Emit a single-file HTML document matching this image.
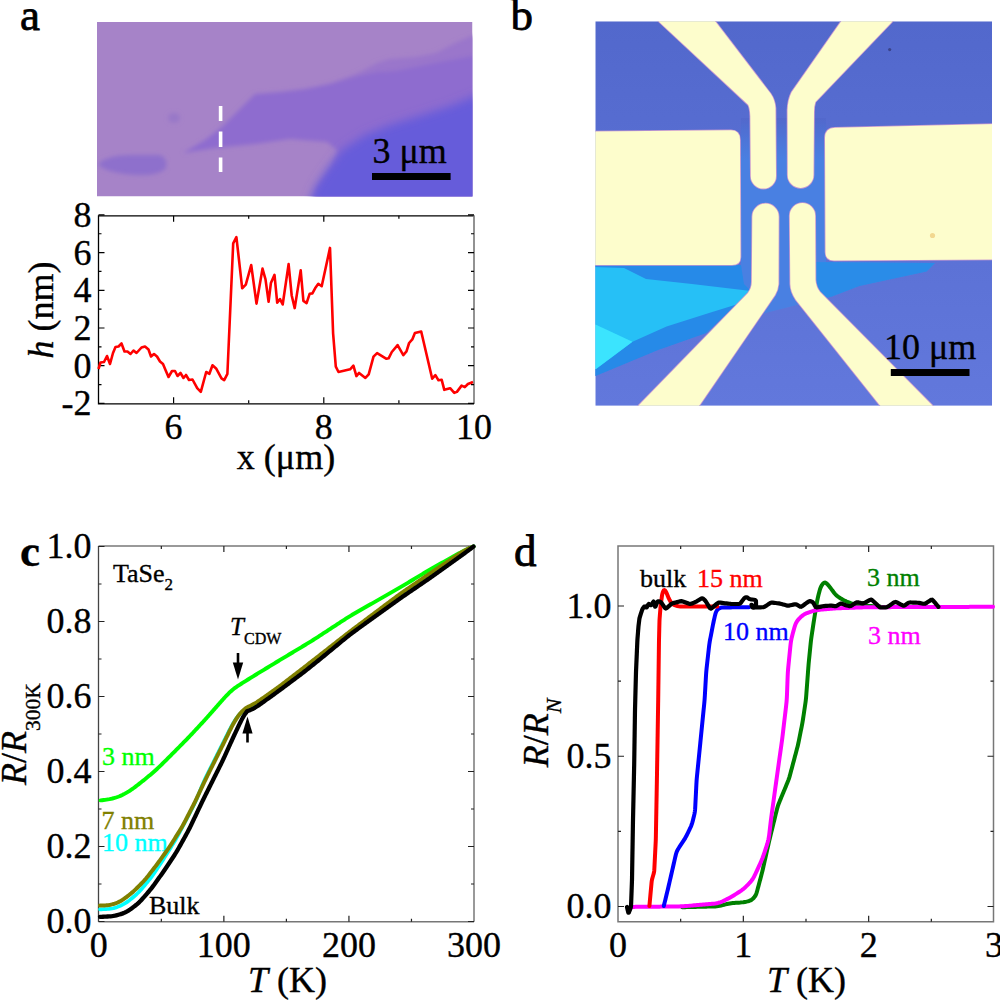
<!DOCTYPE html>
<html><head><meta charset="utf-8"><style>
html,body{margin:0;padding:0;background:#fff;width:1000px;height:1000px;overflow:hidden}
svg{display:block}
text{stroke:currentColor;stroke-width:0.35px}
.pl{stroke-width:0.8px}
</style></head><body>
<svg width="1000" height="1000" viewBox="0 0 1000 1000">
<rect width="1000" height="1000" fill="#fff"/>
<text color="#000" x="20" y="30" font-family="Liberation Serif" font-size="45" class="pl">a</text>
<text color="#000" x="510.5" y="30" font-family="Liberation Serif" font-size="45" class="pl">b</text>
<text color="#000" x="20" y="565.5" font-family="Liberation Serif" font-size="45" font-weight="bold">c</text>
<text color="#000" x="514" y="565.5" font-family="Liberation Serif" font-size="45" class="pl">d</text>
<defs>
<filter id="blurA" x="-5%" y="-5%" width="110%" height="110%"><feGaussianBlur stdDeviation="2.2"/></filter>
<filter id="blurA2" x="-10%" y="-10%" width="120%" height="120%"><feGaussianBlur stdDeviation="5"/></filter>
<filter id="blurB" x="-5%" y="-5%" width="110%" height="110%"><feGaussianBlur stdDeviation="0.7"/></filter>
<clipPath id="clipA"><rect x="97" y="22" width="375.5" height="174.5"/></clipPath>
<clipPath id="clipB"><rect x="595.3" y="21.3" width="396.7" height="384.5"/></clipPath>
</defs>
<g clip-path="url(#clipA)">
<rect x="97" y="22" width="375.5" height="174.5" fill="#a683c8"/>
<g filter="url(#blurA)">
<path d="M329,84 L358,73 L377,63 L389,59 L416,57 L436,53 L455,43 L471,36 L480,33 L480,55 L472,56 L445,61 L420,66 L395,71 L377,72 L358,76 Z" fill="#9a76cb"/>
<path d="M183,153 L205,140 L223,126 L239,110 L255,94 L280,92 L305,89 L329,84 L358,76 L377,72 L395,71 L420,66 L445,61 L472,56 L480,55 L480,200 L312,200 L318,186 L331,168 L338,151 L327,142 L290,139 L255,144 L215,148 Z" fill="#8e6ccf"/>
<path d="M99,163 Q110,154 135,155 L160,155 Q168,158 166,168 Q160,176 135,175 Q112,174 99,166 Z" fill="#8e70cc"/>
<ellipse cx="174" cy="118" rx="6" ry="5" fill="#9878c8"/>
</g>
<g filter="url(#blurA2)">
<path d="M308,205 L316,186 L328,168 L342,150 L365,135 L390,125 L419,116 L450,106 L485,92 L485,205 Z" fill="#665cda"/>
</g>
</g>
<rect x="218.8" y="106" width="3.6" height="15" fill="#ffffff"/>
<rect x="218.8" y="131.5" width="3.6" height="15.5" fill="#ffffff"/>
<rect x="218.8" y="157.5" width="3.6" height="14.5" fill="#ffffff"/>
<text color="#000" x="372.5" y="163" font-family="Liberation Serif" font-size="36">3 μm</text>
<rect x="372" y="173" width="78.6" height="7" fill="#000"/>
<path d="M98.5,215.8 H474" stroke="#000" stroke-width="1.3"/>
<path d="M98.5,215.20000000000002 V403.90000000000003 H474" stroke="#000" stroke-width="1.3" fill="none"/>
<path d="M474,215.20000000000002 V403.90000000000003" stroke="#777" stroke-width="1.6"/>
<path d="M98.5,403.4 h6 M474,403.4 h-6 M98.5,384.55 h3 M474,384.55 h-3 M98.5,365.7 h6 M474,365.7 h-6 M98.5,346.85 h3 M474,346.85 h-3 M98.5,328 h6 M474,328 h-6 M98.5,309.15 h3 M474,309.15 h-3 M98.5,290.3 h6 M474,290.3 h-6 M98.5,271.45 h3 M474,271.45 h-3 M98.5,252.6 h6 M474,252.6 h-6 M98.5,233.75 h3 M474,233.75 h-3 M98.5,214.9 h6 M474,214.9 h-6 M173.6,403.3 v-6 M173.6,215.8 v6 M248.7,403.3 v-3 M248.7,215.8 v3 M323.8,403.3 v-6 M323.8,215.8 v6 M398.9,403.3 v-3 M398.9,215.8 v3" stroke="#000" stroke-width="1.2"/>
<text color="#000" x="91.5" y="226.9" font-family="Liberation Serif" font-size="36" text-anchor="end">8</text>
<text color="#000" x="91.5" y="264.6" font-family="Liberation Serif" font-size="36" text-anchor="end">6</text>
<text color="#000" x="91.5" y="302.3" font-family="Liberation Serif" font-size="36" text-anchor="end">4</text>
<text color="#000" x="91.5" y="340" font-family="Liberation Serif" font-size="36" text-anchor="end">2</text>
<text color="#000" x="91.5" y="377.7" font-family="Liberation Serif" font-size="36" text-anchor="end">0</text>
<text color="#000" x="91.5" y="415.4" font-family="Liberation Serif" font-size="36" text-anchor="end">-2</text>
<text color="#000" x="173.6" y="439" font-family="Liberation Serif" font-size="36" text-anchor="middle">6</text>
<text color="#000" x="323.8" y="439" font-family="Liberation Serif" font-size="36" text-anchor="middle">8</text>
<text color="#000" x="474" y="439" font-family="Liberation Serif" font-size="36" text-anchor="middle">10</text>
<text color="#000" x="286" y="469" font-family="Liberation Serif" font-size="36" text-anchor="middle">x (μm)</text>
<text color="#000" transform="translate(53.3,310) rotate(-90)" font-family="Liberation Serif" font-size="36" text-anchor="middle"><tspan font-style="italic">h</tspan> (nm)</text>
<path d="M98.5,369 L100.5,362.5 L104,362 L107,356 L110,364 L113,353 L115.5,347 L118.5,346.5 L121.5,343.5 L124.5,351.5 L127.5,351.5 L130.5,354 L133.5,350.5 L136.5,353 L141.5,347.5 L145,346.5 L148.5,349.5 L151,356.5 L154,354 L157,356.5 L160,361.5 L163,364 L165.5,370 L168.5,377 L172,371 L175,371 L177.5,376 L180.5,373 L183.5,378 L186,375 L189,380 L192.5,379.5 L197.2,388.2 L200.8,391.8 L206.2,372 L209.4,373.8 L212.5,365.3 L216.1,368.4 L221.5,378.3 L224.2,380.1 L227.4,373.8 L233.2,243.4 L236.4,237.1 L242.2,288.3 L245.8,284.7 L251.2,265 L256.5,303.6 L262.5,268.6 L265.5,279.4 L268.6,301.8 L270.9,283 L274.5,274.9 L277.2,302.7 L280,299.1 L282.7,304.5 L288.6,264.1 L291.7,295.5 L294.7,308.1 L300.7,270.4 L303.4,300.9 L306.6,303.1 L309.7,293.7 L312.4,293.4 L315.1,288.3 L318.3,283.8 L321.7,286.2 L330,247.9 L333.1,333.3 L335.8,366.6 L338.5,372 L350.1,369.3 L353.4,365.7 L356.4,376.1 L359.1,372.9 L365.4,377.9 L368.7,374.3 L373.5,356.7 L377.1,353.1 L386.5,358.8 L388.6,358.3 L391.8,352 L397.6,345.1 L403.3,355.1 L406.5,351.4 L409.1,343 L412.3,339.4 L414.9,333.1 L421.2,331.5 L432.2,378.7 L435.4,375.1 L438.5,380.3 L441.7,379.8 L444.3,389.8 L450.1,388.2 L454.3,392.9 L456.9,391.9 L461.6,385.6 L464.8,387.1 L467.9,384 L470.5,383 L473,382" stroke="#ff0000" stroke-width="2.6" fill="none" stroke-linejoin="round"/>
<g clip-path="url(#clipB)">
<defs><linearGradient id="subg" gradientUnits="userSpaceOnUse" x1="0" y1="21" x2="0" y2="406"><stop offset="0" stop-color="#5268cc"/><stop offset="1" stop-color="#6278dc"/></linearGradient></defs>
<rect x="595.3" y="21.3" width="396.7" height="384.5" fill="url(#subg)"/>
<g filter="url(#blurB)">
<defs><linearGradient id="flg" gradientUnits="userSpaceOnUse" x1="0" y1="118" x2="0" y2="160"><stop offset="0" stop-color="#5268cc"/><stop offset="1" stop-color="#4a80e2"/></linearGradient></defs>
<path d="M595,265 L741,265 L741,118 L826,118 L826,262 L935,263 L926.5,271.4 L859.3,286.1 L832,296.6 L817,300 L799,304.6 L765.6,313 L740,322 L705.6,333.3 L658,350 L596,375.8 L590,376 Z" fill="url(#flg)"/>
<path d="M590,265 L741,265 L744,284 L751,291 L705.6,333.3 L658,350 L596,375.8 L590,376 Z" fill="#268ae8"/>
<path d="M815,262 L935,263 L926.5,271.4 L859.3,286.1 L832,296.6 L817,300 Z" fill="#2c8ce8"/>
<path d="M590,267 L624,268 L646,279 L692,284 L751,291 L738,304 L709,313 L666.5,326.5 L632.5,341.8 L596,369 L590,369 Z" fill="#26c0f6"/>
<path d="M590,324 L596,324.8 L632.5,341.8 L596,369 L590,369 Z" fill="#3ae4fe"/>
<path d="M590,131.5 L731,130.3 Q740,130.3 740,140 L740.5,257 Q740.5,265 732,265 L590,265 Z" fill="#fdfdcc" stroke="#c898d0" stroke-width="1.6" paint-order="stroke"/>
<path d="M1000,124 L835,127.8 Q825,128.2 825,138 L825.5,252 Q825.5,260.5 834,260.5 L1000,259.5 Z" fill="#fdfdcc" stroke="#c898d0" stroke-width="1.6" paint-order="stroke"/>
<path d="M658.2,15 L715,15 L715,21 L770.6,93.6 Q775,100 775.5,108 L776,176 A12.6,12.6 0 0 1 750.8,176 L750.3,116 Q750,108 748.2,104.8 L658.2,21 Z" fill="#fdfdcc" stroke="#c898d0" stroke-width="1.6" paint-order="stroke"/>
<path d="M841.4,15 L892.9,15 L892.9,21 L815.4,102 Q814,106 814,112 L813.5,175 A12.9,12.9 0 0 1 787.7,175 L787.5,110 Q787.8,100 791.6,92.2 L841.4,21 Z" fill="#fdfdcc" stroke="#c898d0" stroke-width="1.6" paint-order="stroke"/>
<path d="M752.3,216.8 A13.2,13.2 0 0 1 778.7,216.8 L778.5,284 Q778,290 775,295 L696.3,410 L634.2,410 L748,293 Q751.7,288 751.8,282 Z" fill="#fdfdcc" stroke="#c898d0" stroke-width="1.6" paint-order="stroke"/>
<path d="M789.7,215.8 A12.75,12.75 0 0 1 815.2,215.8 L815.5,280 Q816,287 820,292 L936.9,410 L883.6,410 L796,300 Q790.5,292 790.3,284 Z" fill="#fdfdcc" stroke="#c898d0" stroke-width="1.6" paint-order="stroke"/>
</g>
<circle cx="889.7" cy="49.6" r="1.6" fill="#333a7a" opacity="0.8"/>
<circle cx="932.5" cy="235.5" r="2.6" fill="#f2d890" filter="url(#blurB)"/>
</g>
<text color="#000" x="884" y="358.5" font-family="Liberation Serif" font-size="36">10 μm</text>
<rect x="890.8" y="369" width="78.7" height="7" fill="#000"/>
<path d="M98.5,546 H474" stroke="#777" stroke-width="1.5"/>
<path d="M474,546 V921.8" stroke="#777" stroke-width="1.5"/>
<path d="M98.5,921.8 H474" stroke="#777" stroke-width="1.5"/>
<path d="M98.5,546 V921.8" stroke="#444" stroke-width="1.3"/>
<path d="M98.5,921.5 h6 M474,921.5 h-6 M98.5,884 h3 M474,884 h-3 M98.5,846.5 h6 M474,846.5 h-6 M98.5,809 h3 M474,809 h-3 M98.5,771.5 h6 M474,771.5 h-6 M98.5,734 h3 M474,734 h-3 M98.5,696.5 h6 M474,696.5 h-6 M98.5,659 h3 M474,659 h-3 M98.5,621.5 h6 M474,621.5 h-6 M98.5,584 h3 M474,584 h-3 M98.5,546.5 h6 M474,546.5 h-6 M161.33,921.8 v-3 M161.33,546 v3 M223.87,921.8 v-6 M223.87,546 v6 M286.4,921.8 v-3 M286.4,546 v3 M348.94,921.8 v-6 M348.94,546 v6 M411.47,921.8 v-3 M411.47,546 v3" stroke="#222" stroke-width="1.2"/>
<text color="#000" x="91.5" y="933" font-family="Liberation Serif" font-size="36" text-anchor="end">0.0</text>
<text color="#000" x="91.5" y="858" font-family="Liberation Serif" font-size="36" text-anchor="end">0.2</text>
<text color="#000" x="91.5" y="783" font-family="Liberation Serif" font-size="36" text-anchor="end">0.4</text>
<text color="#000" x="91.5" y="708" font-family="Liberation Serif" font-size="36" text-anchor="end">0.6</text>
<text color="#000" x="91.5" y="633" font-family="Liberation Serif" font-size="36" text-anchor="end">0.8</text>
<text color="#000" x="91.5" y="558" font-family="Liberation Serif" font-size="36" text-anchor="end">1.0</text>
<text color="#000" x="98.8" y="957" font-family="Liberation Serif" font-size="36" text-anchor="middle">0</text>
<text color="#000" x="223.87" y="957" font-family="Liberation Serif" font-size="36" text-anchor="middle">100</text>
<text color="#000" x="348.94" y="957" font-family="Liberation Serif" font-size="36" text-anchor="middle">200</text>
<text color="#000" x="474.01" y="957" font-family="Liberation Serif" font-size="36" text-anchor="middle">300</text>
<text color="#000" x="248" y="991.5" font-family="Liberation Serif" font-size="36"><tspan font-style="italic">T</tspan> (K)</text>
<text color="#000" transform="translate(26.3,734) rotate(-90)" font-family="Liberation Serif" font-size="36" text-anchor="middle"><tspan font-style="italic">R</tspan>/<tspan font-style="italic">R</tspan><tspan font-size="21.5" dy="13.7">300K</tspan></text>
<text color="#000" x="113" y="582" font-family="Liberation Serif" font-size="26">TaSe<tspan font-size="17" dy="8">2</tspan></text>
<text color="#000" x="230" y="634.5" font-family="Liberation Serif" font-size="25" font-style="italic">T</text>
<text color="#000" x="244" y="644" font-family="Liberation Serif" font-size="16">CDW</text>
<path d="M238,653 V666" stroke="#000" stroke-width="2.6"/><path d="M232.8,662.4 L243.2,662.4 L238,679.5 Z" fill="#000"/>
<path d="M247.5,742.5 V730" stroke="#000" stroke-width="2.6"/><path d="M242.4,733.6 L252.6,733.6 L247.5,716.5 Z" fill="#000"/>
<text color="#00ff00" x="102" y="765" font-family="Liberation Serif" font-size="26" fill="#00ff00">3 nm</text>
<text color="#808000" x="101.5" y="828.5" font-family="Liberation Serif" font-size="26" fill="#808000">7 nm</text>
<text color="#00ffff" x="102" y="851" font-family="Liberation Serif" font-size="26" fill="#00ffff">10 nm</text>
<text color="#000" x="149" y="913.5" font-family="Liberation Serif" font-size="26">Bulk</text>
<g fill="none" stroke-linejoin="round" stroke-linecap="round">
<path d="M100.6,800.4 L102.09,800.22 L103.58,800.03 L105.07,799.84 L106.55,799.62 L108.03,799.39 L109.51,799.13 L110.97,798.83 L112.43,798.5 L113.87,798.12 L115.31,797.71 L116.73,797.24 L118.13,796.74 L119.52,796.2 L120.9,795.61 L122.25,794.99 L123.59,794.32 L124.92,793.63 L126.22,792.9 L127.51,792.14 L128.79,791.35 L130.04,790.53 L131.29,789.7 L132.52,788.84 L133.74,787.96 L134.95,787.08 L136.15,786.17 L137.34,785.26 L138.52,784.34 L139.71,783.41 L140.88,782.48 L142.06,781.55 L143.23,780.61 L144.41,779.67 L145.58,778.73 L146.74,777.78 L147.91,776.83 L149.06,775.87 L150.22,774.91 L151.36,773.94 L152.5,772.96 L153.63,771.97 L154.75,770.97 L155.87,769.97 L156.97,768.95 L158.07,767.93 L159.17,766.9 L160.25,765.86 L161.33,764.81 L162.4,763.76 L163.47,762.71 L164.54,761.65 L165.6,760.59 L166.67,759.53 L167.73,758.47 L168.79,757.41 L169.86,756.34 L170.92,755.28 L171.98,754.22 L173.04,753.15 L174.1,752.09 L175.16,751.02 L176.22,749.96 L177.27,748.89 L178.33,747.82 L179.39,746.75 L180.44,745.68 L181.5,744.61 L182.55,743.54 L183.61,742.47 L184.66,741.4 L185.71,740.33 L186.76,739.26 L187.81,738.18 L188.86,737.1 L189.89,736.01 L190.93,734.93 L191.96,733.83 L192.99,732.74 L194.01,731.64 L195.04,730.54 L196.06,729.44 L197.08,728.33 L198.1,727.23 L199.12,726.13 L200.13,725.02 L201.15,723.92 L202.17,722.81 L203.19,721.71 L204.2,720.6 L205.22,719.49 L206.23,718.38 L207.24,717.27 L208.24,716.15 L209.24,715.03 L210.24,713.91 L211.24,712.78 L212.23,711.65 L213.22,710.52 L214.2,709.39 L215.19,708.25 L216.17,707.12 L217.16,705.99 L218.15,704.85 L219.13,703.72 L220.13,702.59 L221.13,701.47 L222.13,700.35 L223.14,699.24 L224.15,698.13 L225.17,697.03 L226.2,695.94 L227.24,694.85 L228.29,693.78 L229.35,692.73 L230.43,691.7 L231.54,690.7 L232.67,689.73 L233.84,688.8 L235.03,687.9 L236.24,687.04 L237.48,686.2 L238.73,685.38 L240,684.57 L241.26,683.77 L242.53,682.97 L243.81,682.17 L245.08,681.37 L246.35,680.56 L247.62,679.76 L248.89,678.97 L250.17,678.17 L251.44,677.38 L252.72,676.59 L254,675.8 L255.28,675.01 L256.56,674.23 L257.84,673.45 L259.13,672.67 L260.41,671.89 L261.7,671.11 L262.98,670.33 L264.27,669.55 L265.55,668.77 L266.83,667.99 L268.12,667.21 L269.4,666.43 L270.69,665.65 L271.97,664.87 L273.26,664.09 L274.54,663.31 L275.83,662.54 L277.11,661.76 L278.4,660.98 L279.68,660.2 L280.97,659.43 L282.26,658.65 L283.54,657.88 L284.83,657.1 L286.12,656.33 L287.41,655.56 L288.7,654.78 L289.98,654.01 L291.27,653.24 L292.56,652.46 L293.85,651.69 L295.14,650.92 L296.43,650.14 L297.71,649.37 L299,648.6 L300.29,647.83 L301.58,647.05 L302.87,646.28 L304.15,645.5 L305.44,644.73 L306.73,643.95 L308.01,643.17 L309.29,642.39 L310.57,641.6 L311.85,640.81 L313.12,640.01 L314.39,639.2 L315.65,638.39 L316.92,637.58 L318.18,636.76 L319.44,635.94 L320.7,635.12 L321.95,634.3 L323.21,633.48 L324.47,632.66 L325.73,631.84 L326.99,631.02 L328.24,630.2 L329.5,629.38 L330.76,628.56 L332.02,627.73 L333.28,626.91 L334.54,626.09 L335.79,625.27 L337.05,624.45 L338.31,623.63 L339.57,622.81 L340.83,621.99 L342.09,621.17 L343.35,620.35 L344.61,619.53 L345.87,618.72 L347.14,617.92 L348.41,617.12 L349.69,616.33 L350.97,615.55 L352.26,614.78 L353.55,614.01 L354.85,613.26 L356.15,612.5 L357.45,611.76 L358.76,611.01 L360.06,610.26 L361.37,609.52 L362.67,608.78 L363.98,608.03 L365.28,607.29 L366.59,606.54 L367.89,605.8 L369.2,605.06 L370.51,604.31 L371.81,603.57 L373.12,602.82 L374.42,602.08 L375.73,601.34 L377.03,600.59 L378.34,599.85 L379.64,599.1 L380.95,598.36 L382.25,597.62 L383.56,596.87 L384.86,596.13 L386.17,595.38 L387.47,594.64 L388.78,593.9 L390.08,593.15 L391.39,592.41 L392.69,591.66 L394,590.92 L395.3,590.17 L396.6,589.42 L397.9,588.67 L399.2,587.91 L400.5,587.16 L401.8,586.39 L403.09,585.63 L404.38,584.86 L405.67,584.09 L406.96,583.32 L408.25,582.55 L409.54,581.78 L410.83,581 L412.11,580.23 L413.4,579.46 L414.69,578.69 L415.98,577.91 L417.27,577.14 L418.56,576.37 L419.85,575.59 L421.13,574.82 L422.42,574.05 L423.71,573.28 L425,572.51 L426.29,571.74 L427.59,570.98 L428.88,570.22 L430.18,569.46 L431.49,568.71 L432.79,567.97 L434.1,567.23 L435.4,566.49 L436.71,565.75 L438.02,565.02 L439.34,564.28 L440.65,563.55 L441.96,562.82 L443.27,562.08 L444.58,561.35 L445.89,560.62 L447.2,559.89 L448.52,559.15 L449.83,558.42 L451.14,557.69 L452.45,556.95 L453.76,556.22 L455.08,555.49 L456.39,554.76 L457.7,554.04 L459.02,553.32 L460.35,552.61 L461.68,551.91 L463.01,551.23 L464.36,550.57 L465.71,549.92 L467.07,549.3 L468.44,548.68 L469.82,548.08 L471.2,547.48 L472.58,546.89 L473.5,546.5" stroke="#00ff00" stroke-width="3.9"/>
<path d="M100,909.4 L101.5,909.33 L103.01,909.26 L104.51,909.18 L106.01,909.1 L107.51,909.01 L109,908.89 L110.48,908.73 L111.95,908.51 L113.4,908.22 L114.83,907.85 L116.24,907.39 L117.63,906.88 L119.01,906.31 L120.38,905.71 L121.74,905.07 L123.08,904.4 L124.39,903.69 L125.68,902.94 L126.93,902.13 L128.15,901.27 L129.34,900.37 L130.51,899.43 L131.67,898.48 L132.82,897.51 L133.97,896.53 L135.1,895.55 L136.22,894.54 L137.31,893.52 L138.39,892.48 L139.43,891.4 L140.45,890.3 L141.45,889.18 L142.43,888.04 L143.41,886.9 L144.37,885.75 L145.34,884.59 L146.3,883.43 L147.26,882.27 L148.21,881.11 L149.15,879.94 L150.08,878.76 L150.99,877.56 L151.88,876.35 L152.76,875.13 L153.62,873.9 L154.46,872.65 L155.31,871.41 L156.14,870.16 L156.98,868.91 L157.81,867.65 L158.65,866.4 L159.48,865.15 L160.32,863.9 L161.15,862.64 L161.98,861.39 L162.8,860.13 L163.62,858.87 L164.43,857.6 L165.24,856.33 L166.05,855.06 L166.85,853.79 L167.65,852.51 L168.44,851.24 L169.24,849.96 L170.04,848.69 L170.84,847.41 L171.63,846.13 L172.43,844.86 L173.22,843.58 L174.01,842.3 L174.79,841.01 L175.55,839.71 L176.3,838.41 L177.04,837.1 L177.77,835.78 L178.48,834.46 L179.19,833.13 L179.89,831.8 L180.59,830.47 L181.29,829.14 L181.99,827.81 L182.69,826.47 L183.39,825.14 L184.09,823.81 L184.78,822.48 L185.48,821.14 L186.18,819.81 L186.88,818.48 L187.58,817.15 L188.28,815.81 L188.98,814.48 L189.68,813.15 L190.38,811.82 L191.07,810.48 L191.77,809.15 L192.46,807.81 L193.14,806.47 L193.81,805.13 L194.47,803.78 L195.11,802.41 L195.72,801.04 L196.32,799.67 L196.91,798.28 L197.49,796.89 L198.06,795.5 L198.64,794.11 L199.21,792.72 L199.78,791.33 L200.35,789.93 L200.92,788.54 L201.49,787.15 L202.07,785.76 L202.65,784.38 L203.25,782.99 L203.85,781.62 L204.48,780.25 L205.11,778.89 L205.76,777.53 L206.42,776.18 L207.09,774.83 L207.76,773.48 L208.43,772.14 L209.1,770.79 L209.78,769.45 L210.45,768.1 L211.12,766.75 L211.8,765.41 L212.47,764.06 L213.14,762.72 L213.81,761.37 L214.49,760.03 L215.16,758.68 L215.83,757.33 L216.51,755.99 L217.18,754.64 L217.85,753.3 L218.52,751.95 L219.2,750.61 L219.87,749.26 L220.54,747.91 L221.22,746.57 L221.89,745.22 L222.56,743.88 L223.23,742.53 L223.91,741.19 L224.58,739.84 L225.25,738.49 L225.93,737.15 L226.6,735.8 L227.27,734.46 L227.95,733.11 L228.62,731.77 L229.3,730.42 L229.99,729.09 L230.68,727.75 L231.39,726.43 L232.12,725.12 L232.87,723.81 L233.64,722.52 L234.43,721.24 L235.24,719.98 L236.06,718.73 L236.92,717.51 L237.81,716.32 L238.76,715.19 L239.78,714.12 L240.85,713.11 L241.98,712.15 L243.16,711.24 L244.37,710.36 L245.59,709.49 L246,709.2 L246,709.2 L247.36,708.56 L248.72,707.92 L250.07,707.27 L251.42,706.61 L252.77,705.94 L254.09,705.25 L255.4,704.52 L256.69,703.76 L257.96,702.97 L259.22,702.15 L260.46,701.31 L261.7,700.45 L262.93,699.59 L264.15,698.72 L265.38,697.85 L266.61,696.99 L267.83,696.12 L269.06,695.25 L270.29,694.38 L271.51,693.51 L272.74,692.64 L273.97,691.77 L275.19,690.9 L276.41,690.03 L277.63,689.15 L278.85,688.27 L280.06,687.38 L281.27,686.48 L282.47,685.57 L283.66,684.67 L284.86,683.75 L286.05,682.84 L287.24,681.92 L288.43,681 L289.62,680.08 L290.81,679.17 L292,678.25 L293.19,677.33 L294.38,676.41 L295.57,675.5 L296.76,674.58 L297.95,673.66 L299.14,672.74 L300.33,671.82 L301.52,670.91 L302.71,669.99 L303.9,669.07 L305.09,668.14 L306.27,667.22 L307.46,666.3 L308.64,665.37 L309.83,664.45 L311.01,663.52 L312.2,662.6 L313.38,661.67 L314.57,660.75 L315.75,659.82 L316.93,658.89 L318.12,657.97 L319.3,657.04 L320.49,656.12 L321.67,655.19 L322.85,654.26 L324.04,653.34 L325.22,652.41 L326.4,651.48 L327.59,650.56 L328.77,649.63 L329.95,648.7 L331.14,647.78 L332.32,646.85 L333.5,645.92 L334.69,645 L335.87,644.07 L337.05,643.14 L338.24,642.22 L339.42,641.29 L340.6,640.36 L341.79,639.44 L342.97,638.51 L344.15,637.58 L345.34,636.66 L346.52,635.73 L347.71,634.81 L348.9,633.89 L350.09,632.97 L351.28,632.06 L352.48,631.15 L353.68,630.25 L354.88,629.34 L356.08,628.44 L357.28,627.54 L358.49,626.64 L359.69,625.73 L360.89,624.83 L362.09,623.93 L363.3,623.03 L364.5,622.13 L365.7,621.22 L366.9,620.32 L368.11,619.42 L369.31,618.52 L370.51,617.62 L371.71,616.72 L372.92,615.81 L374.12,614.91 L375.32,614.01 L376.52,613.11 L377.72,612.21 L378.93,611.3 L380.13,610.4 L381.33,609.5 L382.53,608.6 L383.74,607.7 L384.94,606.8 L386.14,605.89 L387.34,604.99 L388.55,604.09 L389.75,603.19 L390.95,602.29 L392.15,601.38 L393.36,600.48 L394.56,599.58 L395.77,598.68 L396.97,597.79 L398.18,596.9 L399.4,596.02 L400.62,595.14 L401.85,594.28 L403.08,593.41 L404.32,592.56 L405.56,591.71 L406.79,590.86 L408.04,590.01 L409.28,589.16 L410.52,588.31 L411.76,587.47 L413,586.62 L414.24,585.77 L415.48,584.92 L416.72,584.07 L417.96,583.23 L419.2,582.38 L420.44,581.53 L421.69,580.68 L422.93,579.83 L424.17,578.99 L425.41,578.14 L426.65,577.29 L427.89,576.44 L429.13,575.59 L430.37,574.74 L431.61,573.89 L432.85,573.04 L434.09,572.19 L435.33,571.34 L436.57,570.49 L437.81,569.64 L439.05,568.79 L440.29,567.94 L441.53,567.09 L442.77,566.24 L444.01,565.39 L445.25,564.54 L446.49,563.69 L447.73,562.84 L448.97,561.99 L450.21,561.14 L451.45,560.29 L452.69,559.44 L453.92,558.59 L455.16,557.74 L456.4,556.89 L457.64,556.05 L458.89,555.2 L460.13,554.36 L461.38,553.52 L462.63,552.7 L463.9,551.89 L465.18,551.1 L466.47,550.34 L467.77,549.6 L469.09,548.87 L470.41,548.15 L471.73,547.44 L473.06,546.74 L473.5,546.5" stroke="#00ffff" stroke-width="3.7"/>
<path d="M100,905.6 L101.5,905.54 L103.01,905.48 L104.5,905.4 L106,905.3 L107.49,905.15 L108.97,904.96 L110.43,904.7 L111.89,904.38 L113.33,903.99 L114.75,903.55 L116.16,903.05 L117.54,902.5 L118.89,901.89 L120.21,901.21 L121.5,900.46 L122.76,899.66 L123.99,898.82 L125.21,897.95 L126.42,897.05 L127.62,896.15 L128.81,895.23 L129.99,894.3 L131.16,893.35 L132.3,892.38 L133.43,891.38 L134.53,890.36 L135.62,889.33 L136.7,888.28 L137.77,887.22 L138.83,886.16 L139.9,885.09 L140.95,884.02 L142,882.95 L143.04,881.86 L144.05,880.75 L145.05,879.63 L146.03,878.49 L146.98,877.33 L147.92,876.15 L148.85,874.97 L149.78,873.78 L150.7,872.59 L151.61,871.4 L152.53,870.21 L153.45,869.01 L154.36,867.82 L155.27,866.62 L156.18,865.42 L157.08,864.21 L157.98,863.01 L158.87,861.79 L159.75,860.57 L160.63,859.35 L161.51,858.13 L162.39,856.91 L163.26,855.68 L164.14,854.46 L165.01,853.23 L165.88,852.01 L166.75,850.78 L167.62,849.55 L168.48,848.31 L169.33,847.07 L170.17,845.82 L171,844.57 L171.81,843.3 L172.62,842.03 L173.42,840.76 L174.23,839.49 L175.02,838.21 L175.82,836.93 L176.62,835.66 L177.42,834.38 L178.21,833.1 L179.01,831.83 L179.8,830.55 L180.58,829.26 L181.35,827.97 L182.11,826.67 L182.85,825.36 L183.58,824.04 L184.29,822.72 L184.99,821.39 L185.69,820.06 L186.38,818.72 L187.07,817.38 L187.76,816.04 L188.45,814.71 L189.14,813.37 L189.83,812.03 L190.52,810.69 L191.21,809.35 L191.9,808.02 L192.58,806.68 L193.26,805.33 L193.94,803.99 L194.61,802.64 L195.27,801.29 L195.93,799.94 L196.58,798.58 L197.22,797.22 L197.86,795.85 L198.49,794.49 L199.13,793.13 L199.76,791.76 L200.4,790.4 L201.03,789.03 L201.67,787.67 L202.3,786.3 L202.94,784.94 L203.58,783.58 L204.23,782.22 L204.88,780.86 L205.53,779.51 L206.19,778.15 L206.86,776.8 L207.53,775.46 L208.2,774.11 L208.87,772.76 L209.54,771.42 L210.22,770.07 L210.89,768.72 L211.56,767.38 L212.23,766.03 L212.91,764.68 L213.58,763.34 L214.25,761.99 L214.93,760.65 L215.6,759.3 L216.27,757.95 L216.95,756.61 L217.62,755.26 L218.29,753.91 L218.97,752.57 L219.64,751.22 L220.31,749.88 L220.98,748.53 L221.66,747.18 L222.33,745.84 L223,744.49 L223.67,743.14 L224.34,741.79 L225.01,740.44 L225.67,739.09 L226.33,737.74 L226.99,736.39 L227.65,735.03 L228.31,733.68 L228.96,732.33 L229.62,730.97 L230.29,729.62 L230.96,728.28 L231.64,726.94 L232.33,725.6 L233.05,724.28 L233.79,722.98 L234.55,721.68 L235.34,720.4 L236.14,719.13 L236.96,717.87 L237.8,716.63 L238.67,715.42 L239.59,714.24 L240.55,713.11 L241.57,712.03 L242.64,710.98 L243.74,709.97 L244.86,708.98 L246,708 L246,708 L247.35,707.33 L248.69,706.65 L250.03,705.97 L251.37,705.28 L252.7,704.58 L254.02,703.86 L255.32,703.12 L256.61,702.35 L257.88,701.54 L259.13,700.72 L260.38,699.87 L261.61,699.01 L262.84,698.15 L264.07,697.28 L265.3,696.41 L266.53,695.54 L267.76,694.67 L268.99,693.8 L270.22,692.93 L271.44,692.06 L272.67,691.19 L273.9,690.32 L275.13,689.45 L276.35,688.57 L277.57,687.69 L278.79,686.81 L280,685.92 L281.21,685.02 L282.41,684.11 L283.61,683.2 L284.81,682.29 L286,681.37 L287.2,680.45 L288.39,679.53 L289.58,678.62 L290.77,677.7 L291.96,676.78 L293.16,675.86 L294.35,674.94 L295.54,674.02 L296.73,673.1 L297.93,672.18 L299.12,671.26 L300.31,670.34 L301.5,669.42 L302.69,668.5 L303.88,667.58 L305.07,666.66 L306.26,665.73 L307.45,664.81 L308.63,663.88 L309.82,662.95 L311,662.03 L312.19,661.1 L313.38,660.17 L314.56,659.25 L315.75,658.32 L316.94,657.39 L318.12,656.47 L319.31,655.54 L320.49,654.61 L321.68,653.68 L322.86,652.76 L324.05,651.83 L325.23,650.9 L326.42,649.97 L327.6,649.04 L328.79,648.11 L329.97,647.19 L331.16,646.26 L332.34,645.33 L333.53,644.4 L334.71,643.47 L335.9,642.55 L337.08,641.62 L338.27,640.69 L339.46,639.76 L340.64,638.83 L341.83,637.9 L343.01,636.98 L344.2,636.05 L345.38,635.12 L346.57,634.2 L347.76,633.27 L348.95,632.35 L350.14,631.43 L351.34,630.52 L352.54,629.61 L353.74,628.7 L354.94,627.8 L356.14,626.89 L357.35,625.99 L358.55,625.09 L359.76,624.18 L360.96,623.28 L362.17,622.38 L363.37,621.47 L364.57,620.57 L365.78,619.67 L366.98,618.76 L368.19,617.86 L369.39,616.96 L370.59,616.05 L371.8,615.15 L373,614.25 L374.21,613.34 L375.41,612.44 L376.62,611.54 L377.82,610.63 L379.02,609.73 L380.23,608.83 L381.43,607.92 L382.64,607.02 L383.84,606.12 L385.05,605.22 L386.25,604.31 L387.45,603.41 L388.66,602.51 L389.86,601.6 L391.07,600.7 L392.27,599.8 L393.48,598.89 L394.68,597.99 L395.89,597.09 L397.1,596.2 L398.31,595.31 L399.53,594.42 L400.75,593.55 L401.98,592.68 L403.22,591.82 L404.46,590.96 L405.7,590.11 L406.94,589.26 L408.18,588.41 L409.42,587.56 L410.67,586.71 L411.91,585.86 L413.15,585.01 L414.4,584.16 L415.64,583.31 L416.88,582.46 L418.12,581.61 L419.37,580.77 L420.61,579.92 L421.85,579.07 L423.1,578.22 L424.34,577.37 L425.58,576.52 L426.83,575.67 L428.07,574.83 L429.32,573.98 L430.56,573.14 L431.81,572.29 L433.06,571.45 L434.31,570.61 L435.56,569.77 L436.81,568.93 L438.05,568.09 L439.3,567.25 L440.55,566.41 L441.8,565.57 L443.05,564.74 L444.3,563.9 L445.55,563.06 L446.8,562.22 L448.05,561.38 L449.3,560.54 L450.55,559.7 L451.8,558.86 L453.05,558.02 L454.3,557.18 L455.55,556.34 L456.8,555.51 L458.05,554.67 L459.31,553.84 L460.57,553.02 L461.83,552.21 L463.11,551.43 L464.41,550.68 L465.73,549.97 L467.07,549.3 L468.43,548.67 L469.8,548.06 L471.19,547.47 L472.57,546.89 L473.5,546.5" stroke="#808000" stroke-width="4"/>
<path d="M100,916.9 L101.5,916.83 L103,916.76 L104.51,916.68 L106.01,916.61 L107.51,916.52 L109,916.42 L110.49,916.29 L111.98,916.12 L113.46,915.91 L114.92,915.64 L116.38,915.31 L117.83,914.95 L119.27,914.54 L120.71,914.11 L122.12,913.63 L123.52,913.11 L124.88,912.53 L126.22,911.89 L127.51,911.18 L128.78,910.4 L130.02,909.57 L131.24,908.7 L132.45,907.82 L133.64,906.91 L134.83,905.99 L136,905.05 L137.15,904.09 L138.26,903.1 L139.35,902.07 L140.41,901.01 L141.44,899.92 L142.45,898.81 L143.45,897.69 L144.44,896.56 L145.43,895.43 L146.41,894.3 L147.4,893.16 L148.37,892.01 L149.34,890.86 L150.29,889.7 L151.23,888.53 L152.15,887.34 L153.05,886.14 L153.95,884.94 L154.83,883.72 L155.71,882.5 L156.59,881.28 L157.46,880.05 L158.33,878.83 L159.21,877.61 L160.08,876.38 L160.95,875.16 L161.82,873.93 L162.68,872.7 L163.54,871.46 L164.39,870.23 L165.24,868.98 L166.08,867.74 L166.92,866.49 L167.76,865.24 L168.59,863.99 L169.42,862.74 L170.26,861.49 L171.09,860.24 L171.92,858.98 L172.75,857.73 L173.58,856.47 L174.4,855.21 L175.2,853.94 L176,852.67 L176.77,851.38 L177.54,850.09 L178.29,848.79 L179.03,847.48 L179.76,846.17 L180.5,844.85 L181.23,843.54 L181.96,842.23 L182.69,840.91 L183.42,839.6 L184.15,838.28 L184.88,836.97 L185.6,835.65 L186.33,834.33 L187.05,833.01 L187.75,831.69 L188.45,830.36 L189.14,829.02 L189.81,827.68 L190.47,826.33 L191.13,824.97 L191.78,823.62 L192.42,822.26 L193.07,820.9 L193.72,819.55 L194.36,818.19 L195.01,816.83 L195.65,815.47 L196.3,814.11 L196.94,812.75 L197.59,811.4 L198.23,810.04 L198.88,808.68 L199.52,807.32 L200.17,805.96 L200.82,804.61 L201.46,803.25 L202.12,801.9 L202.77,800.54 L203.43,799.19 L204.09,797.84 L204.76,796.49 L205.43,795.15 L206.1,793.8 L206.77,792.46 L207.44,791.11 L208.12,789.77 L208.79,788.42 L209.46,787.08 L210.13,785.73 L210.81,784.39 L211.48,783.04 L212.15,781.7 L212.82,780.35 L213.5,779.01 L214.17,777.66 L214.84,776.32 L215.51,774.97 L216.19,773.63 L216.86,772.28 L217.53,770.94 L218.2,769.59 L218.87,768.25 L219.55,766.9 L220.22,765.56 L220.88,764.21 L221.55,762.86 L222.2,761.51 L222.85,760.15 L223.5,758.79 L224.13,757.43 L224.76,756.07 L225.38,754.7 L226,753.33 L226.62,751.96 L227.24,750.59 L227.85,749.21 L228.47,747.84 L229.09,746.47 L229.71,745.1 L230.33,743.73 L230.95,742.36 L231.57,740.99 L232.2,739.63 L232.82,738.26 L233.45,736.9 L234.09,735.53 L234.72,734.17 L235.36,732.81 L235.99,731.44 L236.63,730.08 L237.27,728.72 L237.92,727.36 L238.56,726.01 L239.22,724.65 L239.88,723.3 L240.54,721.96 L241.22,720.62 L241.91,719.28 L242.63,717.97 L243.37,716.67 L244.16,715.39 L244.98,714.14 L245.83,712.92 L246.71,711.7 L247,711.3 L247,711.3 L248.39,710.78 L249.77,710.23 L251.14,709.63 L252.48,708.99 L253.79,708.29 L255.09,707.54 L256.36,706.75 L257.62,705.94 L258.86,705.1 L260.09,704.24 L261.32,703.38 L262.55,702.5 L263.77,701.63 L264.99,700.76 L266.21,699.88 L267.43,699.01 L268.66,698.13 L269.88,697.25 L271.1,696.38 L272.32,695.5 L273.54,694.63 L274.76,693.75 L275.98,692.87 L277.2,692 L278.42,691.11 L279.63,690.23 L280.84,689.34 L282.05,688.45 L283.26,687.55 L284.46,686.65 L285.66,685.75 L286.87,684.85 L288.07,683.95 L289.27,683.05 L290.47,682.14 L291.68,681.24 L292.88,680.34 L294.08,679.44 L295.28,678.54 L296.48,677.64 L297.69,676.73 L298.89,675.83 L300.09,674.93 L301.29,674.02 L302.48,673.11 L303.67,672.19 L304.86,671.27 L306.04,670.34 L307.22,669.41 L308.4,668.48 L309.57,667.54 L310.75,666.6 L311.92,665.66 L313.09,664.73 L314.27,663.79 L315.44,662.85 L316.61,661.91 L317.78,660.96 L318.95,660.02 L320.12,659.07 L321.28,658.13 L322.45,657.18 L323.61,656.22 L324.77,655.27 L325.93,654.32 L327.09,653.36 L328.25,652.41 L329.41,651.45 L330.57,650.49 L331.73,649.54 L332.89,648.58 L334.05,647.63 L335.21,646.67 L336.37,645.72 L337.53,644.76 L338.69,643.81 L339.85,642.85 L341.01,641.9 L342.17,640.94 L343.34,639.99 L344.5,639.04 L345.66,638.08 L346.83,637.14 L348,636.2 L349.18,635.27 L350.37,634.35 L351.56,633.44 L352.77,632.54 L353.98,631.65 L355.19,630.77 L356.41,629.89 L357.63,629.01 L358.85,628.13 L360.07,627.25 L361.29,626.37 L362.51,625.5 L363.73,624.62 L364.94,623.74 L366.16,622.86 L367.38,621.98 L368.6,621.11 L369.82,620.23 L371.04,619.35 L372.26,618.47 L373.48,617.59 L374.7,616.72 L375.92,615.84 L377.14,614.96 L378.36,614.08 L379.58,613.2 L380.8,612.32 L382.02,611.45 L383.24,610.57 L384.46,609.69 L385.68,608.81 L386.9,607.93 L388.12,607.06 L389.34,606.18 L390.55,605.3 L391.77,604.42 L392.99,603.54 L394.21,602.67 L395.43,601.79 L396.66,600.92 L397.88,600.04 L399.11,599.18 L400.34,598.31 L401.57,597.45 L402.8,596.6 L404.04,595.74 L405.28,594.89 L406.52,594.05 L407.76,593.2 L409,592.35 L410.24,591.5 L411.48,590.65 L412.72,589.81 L413.96,588.96 L415.21,588.11 L416.45,587.26 L417.69,586.41 L418.93,585.57 L420.17,584.72 L421.41,583.87 L422.65,583.02 L423.89,582.17 L425.13,581.32 L426.37,580.47 L427.61,579.62 L428.84,578.77 L430.07,577.91 L431.3,577.04 L432.53,576.18 L433.76,575.31 L434.98,574.44 L436.21,573.57 L437.43,572.69 L438.65,571.82 L439.88,570.95 L441.1,570.07 L442.32,569.2 L443.54,568.33 L444.77,567.45 L445.99,566.58 L447.21,565.71 L448.44,564.83 L449.66,563.96 L450.88,563.08 L452.1,562.21 L453.33,561.34 L454.55,560.46 L455.77,559.59 L457,558.72 L458.22,557.84 L459.44,556.97 L460.66,556.09 L461.88,555.21 L463.1,554.33 L464.31,553.45 L465.52,552.55 L466.72,551.65 L467.92,550.75 L469.12,549.84 L470.32,548.93 L471.51,548.02 L472.7,547.11 L473.5,546.5" stroke="#000" stroke-width="4.3"/>
</g>
<path d="M618,546 H993.5 V921.8 H618 Z" stroke="#777" stroke-width="1.5" fill="none"/>
<path d="M618,906.5 h6 M993.5,906.5 h-6 M618,831.38 h3 M993.5,831.38 h-3 M618,756.25 h6 M993.5,756.25 h-6 M618,681.12 h3 M993.5,681.12 h-3 M618,606 h6 M993.5,606 h-6 M680.66,921.8 v-3 M680.66,546 v3 M743.33,921.8 v-6 M743.33,546 v6 M806,921.8 v-3 M806,546 v3 M868.66,921.8 v-6 M868.66,546 v6 M931.33,921.8 v-3 M931.33,546 v3" stroke="#222" stroke-width="1.2"/>
<text color="#000" x="611.5" y="918" font-family="Liberation Serif" font-size="36" text-anchor="end">0.0</text>
<text color="#000" x="611.5" y="767.75" font-family="Liberation Serif" font-size="36" text-anchor="end">0.5</text>
<text color="#000" x="611.5" y="617.5" font-family="Liberation Serif" font-size="36" text-anchor="end">1.0</text>
<text color="#000" x="618" y="957" font-family="Liberation Serif" font-size="36" text-anchor="middle">0</text>
<text color="#000" x="743.33" y="957" font-family="Liberation Serif" font-size="36" text-anchor="middle">1</text>
<text color="#000" x="868.66" y="957" font-family="Liberation Serif" font-size="36" text-anchor="middle">2</text>
<text color="#000" x="993.99" y="957" font-family="Liberation Serif" font-size="36" text-anchor="middle">3</text>
<text color="#000" x="767" y="991.5" font-family="Liberation Serif" font-size="36"><tspan font-style="italic">T</tspan> (K)</text>
<text color="#000" transform="translate(548,733) rotate(-90)" font-family="Liberation Serif" font-size="36" text-anchor="middle"><tspan font-style="italic">R</tspan>/<tspan font-style="italic">R</tspan><tspan font-size="22" dy="13" font-style="italic">N</tspan></text>
<text color="#000" x="640" y="587" font-family="Liberation Serif" font-size="26">bulk</text>
<text color="#ff0000" x="697" y="587" font-family="Liberation Serif" font-size="26" fill="#ff0000">15 nm</text>
<text color="#0000ff" x="723" y="640" font-family="Liberation Serif" font-size="26" fill="#0000ff">10 nm</text>
<text color="#008000" x="867" y="586" font-family="Liberation Serif" font-size="26" fill="#008000">3 nm</text>
<text color="#ff00ff" x="868" y="644" font-family="Liberation Serif" font-size="26" fill="#ff00ff">3 nm</text>
<g fill="none" stroke-linejoin="round" stroke-linecap="round" stroke-width="4">
<path d="M682.2,907.2 L683.7,907.17 L685.2,907.13 L686.7,907.1 L688.21,907.06 L689.71,907.03 L691.21,907 L692.71,906.96 L694.21,906.93 L695.71,906.89 L697.21,906.86 L698.72,906.82 L700.22,906.79 L701.72,906.76 L703.22,906.72 L704.72,906.69 L706.22,906.65 L707.72,906.62 L709.23,906.59 L710.73,906.55 L712.23,906.51 L713.73,906.47 L715.22,906.39 L716.71,906.26 L718.19,906.06 L719.66,905.78 L721.12,905.46 L722.58,905.1 L724.04,904.74 L725.49,904.38 L726.95,904.03 L728.42,903.71 L729.89,903.44 L731.37,903.23 L732.86,903.07 L734.35,902.96 L735.85,902.86 L737.35,902.76 L738.85,902.66 L740.34,902.54 L741.83,902.37 L743.32,902.17 L744.8,901.93 L746.27,901.66 L747.72,901.34 L749.14,900.95 L750.47,900.41 L751.71,899.68 L752.84,898.78 L753.88,897.75 L754.79,896.62 L755.55,895.38 L756.16,894.06 L756.64,892.66 L757.06,891.23 L757.46,889.79 L757.84,888.34 L758.23,886.88 L758.62,885.43 L759,883.98 L759.39,882.53 L759.78,881.08 L760.17,879.63 L760.55,878.18 L760.94,876.73 L761.32,875.27 L761.7,873.82 L762.07,872.37 L762.42,870.91 L762.77,869.45 L763.1,867.98 L763.43,866.52 L763.76,865.05 L764.09,863.59 L764.42,862.12 L764.75,860.66 L765.08,859.19 L765.41,857.73 L765.74,856.26 L766.07,854.8 L766.4,853.33 L766.73,851.86 L767.06,850.4 L767.39,848.93 L767.72,847.47 L768.05,846 L768.38,844.54 L768.71,843.07 L769.05,841.61 L769.39,840.15 L769.73,838.69 L770.08,837.23 L770.44,835.77 L770.8,834.31 L771.16,832.85 L771.51,831.39 L771.87,829.93 L772.23,828.48 L772.59,827.02 L772.95,825.56 L773.31,824.1 L773.66,822.64 L774.02,821.18 L774.38,819.72 L774.74,818.27 L775.1,816.81 L775.45,815.35 L775.81,813.89 L776.17,812.43 L776.53,810.97 L776.9,809.52 L777.28,808.07 L777.7,806.63 L778.16,805.21 L778.67,803.8 L779.22,802.4 L779.79,801.01 L780.36,799.62 L780.94,798.24 L781.51,796.85 L782.09,795.46 L782.66,794.08 L783.24,792.69 L783.81,791.3 L784.39,789.91 L784.97,788.53 L785.54,787.14 L786.12,785.75 L786.69,784.36 L787.26,782.98 L787.83,781.58 L788.37,780.19 L788.87,778.77 L789.33,777.35 L789.75,775.91 L790.15,774.46 L790.54,773.01 L790.93,771.56 L791.31,770.11 L791.7,768.66 L792.09,767.21 L792.47,765.76 L792.86,764.3 L793.25,762.85 L793.63,761.4 L794.02,759.95 L794.41,758.5 L794.79,757.05 L795.18,755.6 L795.56,754.15 L795.95,752.69 L796.34,751.24 L796.72,749.79 L797.1,748.34 L797.48,746.89 L797.84,745.43 L798.17,743.96 L798.49,742.5 L798.79,741.03 L799.09,739.55 L799.38,738.08 L799.68,736.61 L799.97,735.14 L800.27,733.66 L800.56,732.19 L800.86,730.72 L801.15,729.25 L801.44,727.77 L801.74,726.3 L802.02,724.83 L802.3,723.35 L802.56,721.87 L802.81,720.39 L803.04,718.91 L803.27,717.42 L803.49,715.94 L803.72,714.45 L803.94,712.97 L804.16,711.48 L804.39,710 L804.61,708.51 L804.84,707.03 L805.06,705.54 L805.28,704.06 L805.5,702.57 L805.7,701.08 L805.87,699.59 L806.02,698.1 L806.15,696.6 L806.27,695.11 L806.38,693.61 L806.49,692.11 L806.6,690.61 L806.72,689.12 L806.83,687.62 L806.94,686.12 L807.05,684.62 L807.17,683.13 L807.28,681.63 L807.39,680.13 L807.5,678.63 L807.61,677.14 L807.73,675.64 L807.84,674.14 L807.95,672.64 L808.06,671.15 L808.18,669.65 L808.29,668.15 L808.41,666.65 L808.53,665.16 L808.65,663.66 L808.79,662.17 L808.94,660.67 L809.08,659.18 L809.23,657.68 L809.38,656.19 L809.53,654.69 L809.68,653.2 L809.83,651.7 L809.98,650.21 L810.13,648.72 L810.28,647.22 L810.43,645.73 L810.58,644.23 L810.73,642.74 L810.9,641.25 L811.08,639.76 L811.28,638.27 L811.49,636.78 L811.71,635.3 L811.93,633.81 L812.15,632.33 L812.37,630.84 L812.6,629.35 L812.82,627.87 L813.04,626.38 L813.27,624.9 L813.49,623.41 L813.72,621.93 L813.95,620.45 L814.18,618.96 L814.42,617.48 L814.67,616 L814.91,614.52 L815.16,613.04 L815.41,611.55 L815.65,610.07 L815.9,608.59 L816.15,607.11 L816.4,605.63 L816.64,604.15 L816.89,602.67 L817.16,601.19 L817.44,599.71 L817.74,598.25 L818.07,596.78 L818.42,595.32 L818.79,593.86 L819.15,592.41 L819.53,590.96 L819.94,589.52 L820.42,588.12 L821,586.76 L821.69,585.47 L822.48,584.28 L823.32,583.29 L824.2,582.68 L825.12,582.59 L826.07,583.04 L827.05,583.87 L828.03,584.91 L828.99,586.04 L829.93,587.2 L830.84,588.4 L831.73,589.6 L832.62,590.81 L833.51,592.02 L834.42,593.2 L835.38,594.33 L836.43,595.37 L837.56,596.32 L838.77,597.18 L840.02,598 L841.3,598.79 L842.59,599.55 L843.9,600.26 L845.25,600.93 L846.61,601.55 L847.99,602.13 L849.38,602.69 L850.78,603.22 L852.2,603.69 L853.64,604.09 L855.1,604.42 L856.57,604.7 L858.05,604.96 L859.53,605.19 L861.02,605.38 L862.51,605.53 L864,605.64 L865.5,605.73 L867,605.82 L868.5,605.89 L870,605.97 L871.5,606.05 L873,606.13 L874.5,606.21 L876,606.29 L877.5,606.37 L879,606.45 L880,606.5" stroke="#008000"/>
<path d="M632.6,906.9 L634.1,906.88 L635.6,906.87 L637.1,906.85 L638.61,906.84 L640.11,906.82 L641.61,906.81 L643.11,906.79 L644.61,906.78 L646.11,906.76 L647.62,906.75 L649.12,906.73 L650.62,906.72 L652.12,906.7 L653.62,906.69 L655.12,906.67 L656.63,906.66 L658.13,906.64 L659.63,906.63 L661.13,906.61 L662.63,906.6 L664.13,906.58 L665.64,906.57 L667.14,906.55 L668.64,906.54 L670.14,906.52 L671.64,906.51 L673.14,906.49 L674.65,906.48 L676.15,906.46 L677.65,906.43 L679.15,906.4 L680.65,906.36 L682.15,906.3 L683.65,906.21 L685.14,906.11 L686.64,906 L688.14,905.88 L689.63,905.75 L691.13,905.62 L692.63,905.49 L694.12,905.36 L695.62,905.23 L697.11,905.1 L698.61,904.97 L700.11,904.84 L701.6,904.71 L703.1,904.58 L704.59,904.45 L706.09,904.32 L707.59,904.19 L709.08,904.06 L710.58,903.93 L712.07,903.79 L713.56,903.64 L715.04,903.46 L716.51,903.23 L717.96,902.93 L719.38,902.54 L720.78,902.07 L722.16,901.51 L723.52,900.9 L724.86,900.25 L726.2,899.58 L727.54,898.89 L728.86,898.19 L730.18,897.46 L731.48,896.72 L732.77,895.95 L734.05,895.17 L735.33,894.39 L736.6,893.59 L737.87,892.79 L739.13,891.98 L740.38,891.14 L741.6,890.28 L742.78,889.37 L743.93,888.42 L745.05,887.43 L746.14,886.41 L747.21,885.36 L748.27,884.3 L749.31,883.22 L750.31,882.12 L751.26,880.98 L752.15,879.79 L752.96,878.56 L753.71,877.28 L754.4,875.96 L755.06,874.62 L755.7,873.26 L756.34,871.9 L756.97,870.54 L757.6,869.17 L758.23,867.81 L758.85,866.45 L759.48,865.08 L760.1,863.72 L760.71,862.35 L761.31,860.97 L761.88,859.58 L762.43,858.19 L762.95,856.78 L763.45,855.37 L763.94,853.95 L764.42,852.53 L764.9,851.1 L765.37,849.68 L765.85,848.25 L766.32,846.83 L766.78,845.4 L767.24,843.97 L767.66,842.53 L768.05,841.09 L768.39,839.64 L768.67,838.17 L768.92,836.69 L769.13,835.21 L769.32,833.72 L769.5,832.23 L769.67,830.74 L769.85,829.25 L770.02,827.76 L770.19,826.27 L770.37,824.77 L770.54,823.28 L770.72,821.79 L770.9,820.3 L771.09,818.81 L771.29,817.32 L771.49,815.83 L771.69,814.35 L771.89,812.86 L772.1,811.37 L772.3,809.88 L772.51,808.4 L772.71,806.91 L772.92,805.42 L773.12,803.93 L773.33,802.45 L773.54,800.96 L773.74,799.47 L773.95,797.98 L774.15,796.5 L774.36,795.01 L774.56,793.52 L774.77,792.03 L774.98,790.55 L775.18,789.06 L775.39,787.57 L775.59,786.08 L775.8,784.6 L776,783.11 L776.21,781.62 L776.42,780.13 L776.62,778.65 L776.83,777.16 L777.04,775.67 L777.25,774.18 L777.46,772.7 L777.67,771.21 L777.88,769.72 L778.09,768.24 L778.3,766.75 L778.51,765.26 L778.71,763.78 L778.92,762.29 L779.13,760.8 L779.34,759.31 L779.55,757.83 L779.76,756.34 L779.97,754.85 L780.18,753.37 L780.39,751.88 L780.6,750.39 L780.81,748.9 L781.02,747.42 L781.23,745.93 L781.43,744.44 L781.64,742.96 L781.85,741.47 L782.05,739.98 L782.24,738.49 L782.43,737 L782.62,735.51 L782.8,734.02 L782.98,732.53 L783.15,731.04 L783.33,729.55 L783.5,728.06 L783.68,726.56 L783.85,725.07 L784.03,723.58 L784.2,722.09 L784.38,720.6 L784.55,719.11 L784.73,717.62 L784.91,716.12 L785.08,714.63 L785.26,713.14 L785.43,711.65 L785.61,710.16 L785.78,708.67 L785.96,707.18 L786.13,705.68 L786.29,704.19 L786.45,702.7 L786.59,701.21 L786.71,699.71 L786.81,698.21 L786.89,696.71 L786.96,695.21 L787.02,693.71 L787.08,692.21 L787.13,690.71 L787.19,689.21 L787.24,687.71 L787.29,686.21 L787.35,684.71 L787.4,683.21 L787.45,681.71 L787.51,680.21 L787.56,678.71 L787.62,677.21 L787.68,675.71 L787.76,674.21 L787.84,672.71 L787.94,671.21 L788.06,669.72 L788.19,668.22 L788.33,666.72 L788.48,665.23 L788.63,663.74 L788.78,662.24 L788.93,660.75 L789.07,659.25 L789.22,657.76 L789.37,656.26 L789.52,654.77 L789.67,653.28 L789.82,651.78 L789.97,650.29 L790.12,648.79 L790.27,647.3 L790.43,645.81 L790.6,644.32 L790.78,642.83 L791,641.35 L791.26,639.87 L791.55,638.41 L791.89,636.95 L792.25,635.49 L792.63,634.04 L793.02,632.59 L793.41,631.14 L793.8,629.69 L794.21,628.25 L794.63,626.81 L795.09,625.4 L795.61,624.03 L796.22,622.71 L796.95,621.45 L797.79,620.27 L798.72,619.14 L799.74,618.07 L800.8,617.04 L801.92,616.07 L803.08,615.17 L804.3,614.37 L805.58,613.66 L806.92,613.05 L808.3,612.52 L809.71,612.03 L811.13,611.57 L812.57,611.15 L814.01,610.76 L815.47,610.42 L816.93,610.14 L818.41,609.91 L819.89,609.72 L821.38,609.56 L822.88,609.42 L824.37,609.29 L825.87,609.16 L827.36,609.03 L828.86,608.91 L830.36,608.78 L831.85,608.66 L833.35,608.55 L834.85,608.44 L836.35,608.35 L837.85,608.27 L839.35,608.2 L840.85,608.14 L842.35,608.08 L843.85,608.03 L845.35,607.98 L846.85,607.93 L848.35,607.88 L849.85,607.82 L851.35,607.77 L852.85,607.72 L854.35,607.67 L855.85,607.62 L857.35,607.57 L858.86,607.51 L860.36,607.46 L861.86,607.41 L863.36,607.36 L864.86,607.32 L866.36,607.28 L867.86,607.25 L869.36,607.22 L870.86,607.2 L872.37,607.19 L873.87,607.18 L875.37,607.18 L876.87,607.17 L878.37,607.17 L879.87,607.16 L881.38,607.16 L882.88,607.15 L884.38,607.15 L885.88,607.14 L887.38,607.14 L888.88,607.13 L890.39,607.13 L891.89,607.12 L893.39,607.12 L894.89,607.11 L896.39,607.11 L897.89,607.1 L899.4,607.1 L900.9,607.09 L902.4,607.09 L903.9,607.09 L905.4,607.08 L906.9,607.08 L908.41,607.07 L909.91,607.07 L911.41,607.06 L912.91,607.06 L914.41,607.05 L915.91,607.05 L917.42,607.04 L918.92,607.04 L920.42,607.03 L921.92,607.03 L923.42,607.02 L924.92,607.02 L926.43,607.01 L927.93,607.01 L929.43,607 L930.93,607 L932.43,606.99 L933.93,606.99 L935.44,606.98 L936.94,606.98 L938.44,606.97 L939.94,606.97 L941.44,606.96 L942.94,606.96 L944.45,606.96 L945.95,606.95 L947.45,606.95 L948.95,606.94 L950.45,606.94 L951.95,606.93 L953.46,606.93 L954.96,606.92 L956.46,606.92 L957.96,606.91 L959.46,606.91 L960.96,606.9 L962.47,606.9 L963.97,606.89 L965.47,606.89 L966.97,606.88 L968.47,606.88 L969.97,606.87 L971.48,606.87 L972.98,606.86 L974.48,606.86 L975.98,606.85 L977.48,606.85 L978.98,606.84 L980.49,606.84 L981.99,606.84 L983.49,606.83 L984.99,606.83 L986.49,606.82 L987.99,606.82 L989.5,606.81 L991,606.81 L992.5,606.8 L993,606.8" stroke="#ff00ff"/>
<path d="M663.8,906 L664.16,904.54 L664.51,903.08 L664.87,901.62 L665.23,900.15 L665.58,898.69 L665.94,897.23 L666.3,895.77 L666.65,894.31 L667.01,892.85 L667.36,891.39 L667.71,889.92 L668.06,888.46 L668.4,886.99 L668.74,885.53 L669.08,884.06 L669.42,882.6 L669.75,881.13 L670.09,879.67 L670.43,878.2 L670.77,876.73 L671.11,875.27 L671.45,873.8 L671.78,872.34 L672.12,870.87 L672.46,869.4 L672.79,867.94 L673.13,866.47 L673.46,865.01 L673.8,863.54 L674.13,862.07 L674.46,860.6 L674.8,859.14 L675.13,857.67 L675.47,856.21 L675.82,854.75 L676.22,853.31 L676.7,851.91 L677.3,850.55 L678,849.24 L678.78,847.97 L679.6,846.71 L680.43,845.46 L681.26,844.21 L682.1,842.95 L682.93,841.7 L683.75,840.44 L684.55,839.17 L685.31,837.88 L686.04,836.56 L686.72,835.23 L687.39,833.88 L688.05,832.53 L688.71,831.18 L689.36,829.82 L690.01,828.47 L690.64,827.1 L691.23,825.72 L691.75,824.32 L692.21,822.9 L692.62,821.45 L693,820 L693.36,818.54 L693.73,817.08 L694.08,815.62 L694.41,814.15 L694.69,812.68 L694.91,811.2 L695.07,809.71 L695.18,808.21 L695.26,806.71 L695.34,805.21 L695.41,803.71 L695.49,802.21 L695.56,800.7 L695.64,799.2 L695.72,797.7 L695.79,796.2 L695.87,794.7 L695.94,793.19 L696.02,791.69 L696.09,790.19 L696.17,788.69 L696.24,787.18 L696.32,785.68 L696.39,784.18 L696.48,782.68 L696.57,781.18 L696.67,779.68 L696.8,778.18 L696.94,776.68 L697.08,775.18 L697.23,773.69 L697.38,772.19 L697.53,770.69 L697.68,769.2 L697.83,767.7 L697.98,766.2 L698.13,764.7 L698.28,763.21 L698.43,761.71 L698.58,760.21 L698.73,758.72 L698.88,757.22 L699.03,755.72 L699.18,754.23 L699.33,752.73 L699.48,751.23 L699.63,749.74 L699.78,748.24 L699.93,746.74 L700.08,745.25 L700.23,743.75 L700.37,742.25 L700.52,740.76 L700.67,739.26 L700.82,737.76 L700.97,736.27 L701.12,734.77 L701.27,733.27 L701.42,731.78 L701.57,730.28 L701.72,728.78 L701.87,727.29 L702.02,725.79 L702.17,724.29 L702.32,722.8 L702.47,721.3 L702.62,719.8 L702.77,718.3 L702.92,716.81 L703.07,715.31 L703.22,713.81 L703.37,712.32 L703.52,710.82 L703.67,709.32 L703.82,707.83 L703.97,706.33 L704.12,704.83 L704.26,703.34 L704.4,701.84 L704.53,700.34 L704.64,698.84 L704.74,697.34 L704.84,695.84 L704.92,694.34 L705.01,692.84 L705.1,691.33 L705.18,689.83 L705.27,688.33 L705.35,686.83 L705.44,685.33 L705.52,683.82 L705.61,682.32 L705.7,680.82 L705.78,679.32 L705.87,677.82 L705.96,676.32 L706.05,674.81 L706.15,673.31 L706.27,671.82 L706.41,670.32 L706.56,668.82 L706.72,667.33 L706.89,665.83 L707.05,664.34 L707.22,662.84 L707.38,661.35 L707.55,659.85 L707.72,658.36 L707.88,656.86 L708.05,655.37 L708.21,653.87 L708.38,652.38 L708.55,650.88 L708.71,649.39 L708.88,647.89 L709.05,646.4 L709.24,644.91 L709.45,643.42 L709.69,641.93 L709.95,640.45 L710.23,638.97 L710.51,637.5 L710.8,636.02 L711.08,634.54 L711.37,633.07 L711.66,631.59 L711.94,630.11 L712.23,628.64 L712.52,627.16 L712.81,625.68 L713.1,624.21 L713.4,622.73 L713.7,621.26 L714.02,619.79 L714.35,618.32 L714.68,616.86 L715.02,615.39 L715.4,613.95 L715.85,612.55 L716.44,611.22 L717.21,610.03 L718.16,609.03 L719.29,608.28 L720.58,607.82 L721.98,607.58 L723.44,607.48 L724.94,607.44 L726.44,607.43 L727.94,607.41 L729.45,607.4 L730.95,607.38 L732.45,607.37 L733.96,607.35 L735.46,607.34 L736.97,607.32 L738.47,607.31 L739.97,607.29 L741.48,607.28 L742.98,607.26 L744.49,607.25 L745.99,607.23 L747.5,607.22 L749,607.2" stroke="#0000ff"/>
<path d="M649.4,906 L649.54,904.5 L649.68,903.01 L649.81,901.51 L649.95,900.02 L650.09,898.52 L650.23,897.02 L650.37,895.53 L650.5,894.03 L650.64,892.54 L650.78,891.04 L650.92,889.54 L651.06,888.05 L651.2,886.55 L651.33,885.06 L651.47,883.56 L651.62,882.07 L651.82,880.58 L652.11,879.12 L652.51,877.67 L652.93,876.23 L653.36,874.79 L653.76,873.35 L654.07,871.89 L654.25,870.41 L654.35,868.91 L654.43,867.41 L654.5,865.91 L654.58,864.41 L654.65,862.91 L654.73,861.41 L654.8,859.91 L654.88,858.41 L654.95,856.91 L655.03,855.41 L655.1,853.91 L655.18,852.4 L655.25,850.9 L655.33,849.4 L655.4,847.9 L655.48,846.4 L655.55,844.9 L655.63,843.4 L655.7,841.9 L655.77,840.4 L655.81,838.9 L655.85,837.4 L655.88,835.9 L655.9,834.39 L655.93,832.89 L655.96,831.39 L655.99,829.89 L656.01,828.39 L656.04,826.88 L656.07,825.38 L656.1,823.88 L656.12,822.38 L656.15,820.88 L656.18,819.37 L656.21,817.87 L656.23,816.37 L656.26,814.87 L656.29,813.37 L656.32,811.86 L656.34,810.36 L656.37,808.86 L656.4,807.36 L656.43,805.86 L656.45,804.35 L656.48,802.85 L656.51,801.35 L656.54,799.85 L656.56,798.34 L656.59,796.84 L656.62,795.34 L656.65,793.84 L656.67,792.34 L656.7,790.83 L656.73,789.33 L656.76,787.83 L656.78,786.33 L656.81,784.83 L656.84,783.32 L656.87,781.82 L656.89,780.32 L656.92,778.82 L656.94,777.32 L656.97,775.81 L656.99,774.31 L657.02,772.81 L657.04,771.31 L657.07,769.81 L657.09,768.3 L657.11,766.8 L657.14,765.3 L657.16,763.8 L657.19,762.3 L657.21,760.79 L657.24,759.29 L657.26,757.79 L657.29,756.29 L657.31,754.78 L657.33,753.28 L657.36,751.78 L657.38,750.28 L657.41,748.78 L657.43,747.27 L657.46,745.77 L657.48,744.27 L657.51,742.77 L657.53,741.27 L657.55,739.76 L657.58,738.26 L657.6,736.76 L657.63,735.26 L657.65,733.76 L657.68,732.25 L657.7,730.75 L657.72,729.25 L657.75,727.75 L657.77,726.25 L657.8,724.74 L657.82,723.24 L657.85,721.74 L657.87,720.24 L657.9,718.73 L657.92,717.23 L657.94,715.73 L657.97,714.23 L657.99,712.73 L658.02,711.22 L658.04,709.72 L658.07,708.22 L658.09,706.72 L658.12,705.22 L658.14,703.71 L658.16,702.21 L658.19,700.71 L658.21,699.21 L658.23,697.71 L658.25,696.2 L658.27,694.7 L658.29,693.2 L658.31,691.7 L658.33,690.19 L658.35,688.69 L658.37,687.19 L658.39,685.69 L658.41,684.19 L658.43,682.68 L658.45,681.18 L658.47,679.68 L658.49,678.18 L658.51,676.67 L658.53,675.17 L658.55,673.67 L658.57,672.17 L658.59,670.67 L658.61,669.16 L658.63,667.66 L658.65,666.16 L658.67,664.66 L658.69,663.16 L658.71,661.65 L658.73,660.15 L658.75,658.65 L658.77,657.15 L658.79,655.64 L658.81,654.14 L658.83,652.64 L658.85,651.14 L658.87,649.64 L658.89,648.13 L658.91,646.63 L658.93,645.13 L658.95,643.63 L658.97,642.13 L659,640.62 L659.02,639.12 L659.06,637.62 L659.1,636.12 L659.13,634.62 L659.17,633.11 L659.21,631.61 L659.25,630.11 L659.28,628.61 L659.32,627.11 L659.36,625.6 L659.4,624.1 L659.44,622.6 L659.48,621.1 L659.55,619.6 L659.65,618.1 L659.77,616.6 L659.88,615.11 L660,613.61 L660.12,612.11 L660.24,610.61 L660.36,609.12 L660.48,607.62 L660.62,606.12 L660.79,604.63 L660.98,603.14 L661.18,601.65 L661.38,600.16 L661.58,598.67 L661.78,597.18 L661.99,595.7 L662.28,594.23 L662.67,592.79 L663.16,591.41 L663.72,590.33 L664.41,590.04 L665.22,590.68 L665.99,591.84 L666.64,593.18 L667.22,594.56 L667.78,595.95 L668.35,597.34 L668.96,598.71 L669.64,600.05 L670.37,601.36 L671.15,602.62 L672.08,603.71 L673.24,604.51 L674.6,605.08 L676.01,605.57 L677.43,606.03 L678.88,606.38 L680.35,606.55 L681.85,606.59 L683.35,606.6 L684.85,606.6 L686.35,606.6 L687.85,606.6 L689.36,606.6 L690.86,606.6 L692.36,606.6 L693.86,606.6 L695.37,606.6 L696.87,606.6 L698.37,606.6 L699.87,606.6 L701.38,606.6 L702.88,606.6 L704.38,606.6 L705.88,606.6 L707.38,606.6 L708.89,606.6 L710.39,606.6 L711.89,606.6 L713.39,606.6 L714.9,606.6 L716.4,606.6 L717.4,606.6" stroke="#ff0000"/>
<path d="M627,907 L627.34,908.46 L627.68,909.93 L628.01,911.39 L628.36,912.68 L628.81,912.6 L629.34,911.32 L629.88,909.92 L630.42,908.51 L630.87,907.09 L631.05,905.62 L631.11,904.12 L631.16,902.62 L631.22,901.12 L631.27,899.62 L631.33,898.12 L631.38,896.62 L631.44,895.11 L631.5,893.61 L631.55,892.11 L631.61,890.61 L631.66,889.11 L631.72,887.61 L631.77,886.11 L631.83,884.61 L631.88,883.11 L631.94,881.61 L631.99,880.11 L632.02,878.61 L632.05,877.1 L632.07,875.6 L632.1,874.1 L632.12,872.6 L632.15,871.1 L632.17,869.6 L632.2,868.1 L632.22,866.59 L632.25,865.09 L632.27,863.59 L632.3,862.09 L632.32,860.59 L632.35,859.09 L632.37,857.59 L632.4,856.08 L632.42,854.58 L632.45,853.08 L632.47,851.58 L632.5,850.08 L632.52,848.58 L632.55,847.08 L632.57,845.57 L632.6,844.07 L632.62,842.57 L632.65,841.07 L632.67,839.57 L632.7,838.07 L632.72,836.56 L632.75,835.06 L632.77,833.56 L632.8,832.06 L632.82,830.56 L632.85,829.06 L632.87,827.56 L632.9,826.05 L632.92,824.55 L632.95,823.05 L632.97,821.55 L633,820.05 L633.03,818.55 L633.06,817.05 L633.1,815.54 L633.13,814.04 L633.16,812.54 L633.19,811.04 L633.22,809.54 L633.26,808.04 L633.29,806.54 L633.32,805.03 L633.35,803.53 L633.39,802.03 L633.42,800.53 L633.45,799.03 L633.48,797.53 L633.51,796.03 L633.55,794.53 L633.58,793.02 L633.61,791.52 L633.64,790.02 L633.67,788.52 L633.71,787.02 L633.74,785.52 L633.77,784.02 L633.8,782.51 L633.84,781.01 L633.87,779.51 L633.9,778.01 L633.93,776.51 L633.96,775.01 L634,773.51 L634.03,772.01 L634.06,770.5 L634.09,769 L634.12,767.5 L634.16,766 L634.19,764.5 L634.21,763 L634.24,761.5 L634.26,759.99 L634.28,758.49 L634.3,756.99 L634.33,755.49 L634.35,753.99 L634.37,752.49 L634.39,750.98 L634.42,749.48 L634.44,747.98 L634.46,746.48 L634.48,744.98 L634.5,743.48 L634.53,741.98 L634.55,740.47 L634.57,738.97 L634.59,737.47 L634.62,735.97 L634.64,734.47 L634.66,732.97 L634.68,731.47 L634.7,729.96 L634.73,728.46 L634.75,726.96 L634.77,725.46 L634.79,723.96 L634.82,722.46 L634.84,720.95 L634.86,719.45 L634.88,717.95 L634.9,716.45 L634.93,714.95 L634.95,713.45 L634.97,711.95 L635,710.44 L635.03,708.94 L635.07,707.44 L635.11,705.94 L635.15,704.44 L635.19,702.94 L635.23,701.44 L635.26,699.94 L635.3,698.43 L635.34,696.93 L635.38,695.43 L635.42,693.93 L635.46,692.43 L635.5,690.93 L635.54,689.43 L635.58,687.93 L635.62,686.42 L635.66,684.92 L635.7,683.42 L635.74,681.92 L635.78,680.42 L635.82,678.92 L635.86,677.42 L635.9,675.92 L635.94,674.42 L635.98,672.91 L636.03,671.41 L636.09,669.91 L636.16,668.41 L636.22,666.91 L636.29,665.41 L636.35,663.91 L636.42,662.41 L636.49,660.91 L636.55,659.41 L636.62,657.91 L636.68,656.41 L636.75,654.91 L636.81,653.41 L636.88,651.91 L636.94,650.41 L637.01,648.91 L637.08,647.41 L637.14,645.91 L637.21,644.41 L637.27,642.91 L637.34,641.41 L637.42,639.91 L637.52,638.41 L637.64,636.91 L637.76,635.42 L637.88,633.92 L638,632.42 L638.11,630.93 L638.23,629.43 L638.35,627.93 L638.47,626.44 L638.63,624.94 L638.82,623.45 L639,621.96 L639.19,620.47 L639.38,618.98 L639.68,617.52 L640.12,616.08 L640.58,614.65 L641.04,613.22 L641.5,611.8 L641.96,610.37 L642.52,608.99 L643.34,607.75 L644.24,606.62 L645.11,606.45 L645.94,607.41 L646.7,607.44 L647.38,606.24 L648.05,604.9 L648.79,603.94 L649.74,604.36 L650.78,605.23 L651.61,604.89 L652.29,603.62 L652.96,602.29 L653.56,601.59 L653.98,602.54 L654.35,603.99 L654.71,605.45 L655.09,606.68 L655.55,606.41 L656.07,605.07 L656.6,603.66 L657.14,602.27 L657.91,601.33 L659.21,601.41 L660.56,601.92 L661.55,602.95 L662.39,604.19 L663.22,605.44 L664.06,606.69 L664.89,607.91 L665.81,608.52 L666.9,607.86 L668.03,606.88 L669.16,605.89 L670.29,604.9 L671.43,603.94 L672.72,603.26 L674.16,602.86 L675.62,602.49 L677.08,602.13 L678.54,601.77 L679.99,601.4 L681.44,601.18 L682.86,601.47 L684.28,601.97 L685.69,602.49 L687.1,603 L688.51,603.51 L689.92,603.94 L691.31,603.78 L692.69,603.22 L694.07,602.63 L695.45,602.02 L696.77,601.31 L698.04,600.52 L699.32,599.73 L700.59,598.93 L701.85,598.25 L703.01,598.48 L704.08,599.48 L705.12,600.55 L706.02,601.74 L706.81,603.01 L707.58,604.3 L708.35,605.59 L709.13,606.88 L709.91,608.11 L710.88,608.56 L712.08,607.87 L713.24,606.92 L714.37,605.93 L715.5,604.94 L716.63,603.95 L717.77,603.01 L719.06,602.57 L720.53,602.7 L722.02,602.92 L723.5,603.12 L724.99,603.3 L726.49,603.45 L727.98,603.6 L729.48,603.75 L730.97,603.89 L732.47,603.99 L733.97,604 L735.47,604 L736.97,604 L738.47,604 L739.85,603.76 L740.86,602.79 L741.73,601.58 L742.6,600.35 L743.49,599.14 L744.53,598.09 L745.75,597.31 L746.97,597.32 L748.18,598.13 L749.42,598.94 L750.82,599.34 L752.31,599.54 L753.8,599.72 L755.21,599.98 L755.93,600.84 L756,602.28 L756,603.79 L756,605.29 L755.85,606.67 L754.91,607.42 L753.49,607.74 L752.42,607.38 L751.88,606.09 L751.49,604.81 L751.71,604.78 L752.5,605.9 L753.41,607.02 L754.68,607.44 L756.17,607.43 L757.67,607.38 L759.17,607.34 L760.67,607.3 L762.17,607.25 L763.64,607.11 L764.97,606.54 L766.23,605.72 L767.47,604.88 L768.72,604.05 L769.97,603.22 L771.27,602.61 L772.72,602.61 L774.2,602.81 L775.69,603.01 L777.18,603.22 L778.67,603.42 L780.14,603.67 L781.6,604.04 L783.05,604.44 L784.49,604.84 L785.94,605.23 L787.39,605.59 L788.85,605.58 L790.31,605.28 L791.78,604.95 L793.24,604.62 L794.71,604.3 L796.11,604.28 L797.4,604.93 L798.65,605.76 L799.9,606.57 L801.13,606.79 L802.35,606.07 L803.57,605.19 L804.78,604.31 L805.99,603.42 L807.21,602.54 L808.42,601.66 L809.68,601.09 L811.05,601.35 L812.38,601.96 L813.35,603 L814.11,604.29 L814.85,605.59 L815.63,606.83 L816.72,607.37 L818.15,607.17 L819.62,606.88 L821.1,606.58 L822.57,606.29 L824.05,606.04 L825.54,605.92 L827.04,605.85 L828.54,605.77 L830.04,605.7 L831.54,605.66 L833.02,605.81 L834.49,606.09 L835.92,606.17 L837.22,605.58 L838.47,604.75 L839.72,603.94 L841.01,603.49 L842.37,603.86 L843.76,604.43 L845.15,604.99 L846.58,605.44 L848.04,605.81 L849.49,606.14 L850.85,605.99 L852.11,605.23 L853.34,604.38 L854.58,603.53 L855.82,602.69 L857.13,602.23 L858.56,602.44 L860.01,602.8 L861.47,603.17 L862.91,603.39 L864.27,603 L865.59,602.29 L866.9,601.56 L868.22,600.84 L869.53,600.12 L870.83,599.57 L871.99,599.99 L873.08,601 L874.17,602.03 L875.26,603.07 L876.34,604.11 L877.43,605.14 L878.51,606.18 L879.63,607.14 L880.96,607.52 L882.45,607.46 L883.95,607.38 L885.45,607.3 L886.91,607.11 L888.22,606.48 L889.45,605.62 L890.68,604.76 L891.91,603.9 L893.14,603.04 L894.37,602.21 L895.65,601.94 L896.98,602.49 L898.33,603.16 L899.67,603.83 L901.01,604.51 L902.35,605.18 L903.68,605.66 L904.93,605.28 L906.13,604.4 L907.33,603.5 L908.57,602.71 L909.97,602.46 L911.47,602.51 L912.97,602.57 L914.47,602.64 L915.97,602.7 L917.47,602.77 L918.96,602.92 L920.44,603.18 L921.92,603.46 L923.39,603.73 L924.81,603.76 L926.11,603.13 L927.36,602.3 L928.61,601.46 L929.85,600.63 L931.1,599.83 L932.25,599.72 L933.24,600.67 L934.21,601.82 L935.18,602.97 L936.14,604.12 L937.11,605.27 L938.08,606.42 L938.4,606.8" stroke="#000" stroke-width="4.2"/>
</g>
</svg>
</body></html>
